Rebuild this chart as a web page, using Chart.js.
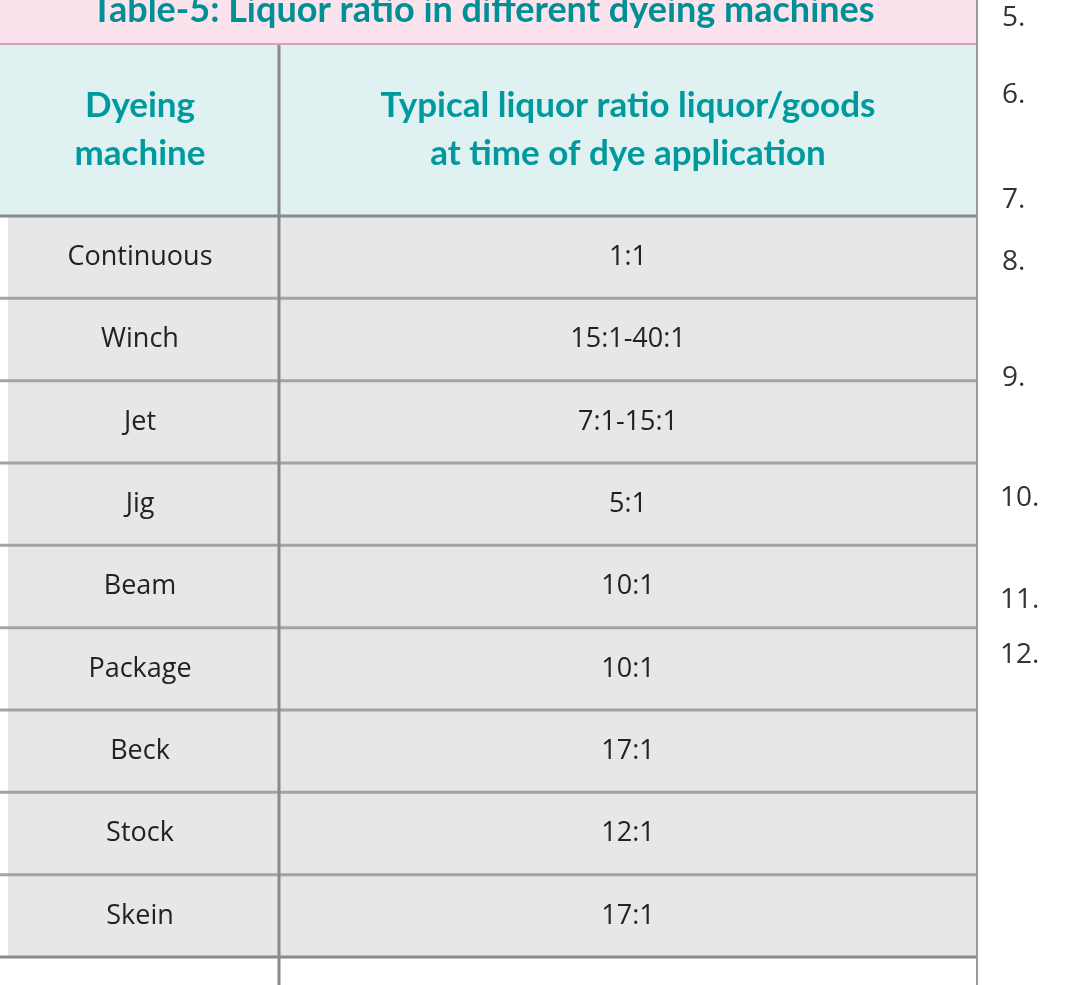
<!DOCTYPE html>
<html><head><meta charset="utf-8">
<script src="https://cdn.jsdelivr.net/npm/chart.js@4/dist/chart.umd.min.js"></script>
<style>
body{margin:0;background:#fff;width:1092px;height:985px;overflow:hidden;position:relative;font-family:Lato,"Open Sans",sans-serif}
#c{position:absolute;left:0;top:0}
</style></head><body>
<canvas id="c" width="1092" height="985"></canvas>
<script>
const title = "Table-5: Liquor ratio in different dyeing machines";
const headers = ["Dyeing\nmachine", "Typical liquor ratio liquor/goods\nat time of dye application"];
const machines = ["Continuous","Winch","Jet","Jig","Beam","Package","Beck","Stock","Skein"];
const ratios = ["1:1","15:1-40:1","7:1-15:1","5:1","10:1","10:1","17:1","12:1","17:1"];
const sideNumbers = ["5.","6.","7.","8.","9.","10.","11.","12."];
const sideY = [18,95,200,262,378,498,600,655];

const tablePlugin = {
  id:'tablePlugin',
  beforeDraw(ch){
    const c=ch.ctx, a=ch.chartArea;
    c.save();
    c.fillStyle='#fff';c.fillRect(0,0,1092,985);
    c.fillStyle='#fbe3ee';c.fillRect(0,0,a.right,45);
    c.fillStyle='#dff1f1';c.fillRect(0,45,a.right,a.top-45);
    c.fillStyle='#008f94';c.font='bold 36px Lato';c.textAlign='center';c.textBaseline='alphabetic';
    c.fillText(title,a.right/2-5,22);
    c.fillStyle='#d7a0b8';c.fillRect(0,43,a.right,2);
    c.font='bold 35px Lato';c.fillStyle='#009a9e';c.textBaseline='middle';
    const cols=[140,628];
    headers.forEach((h,i)=>{h.split('\n').forEach((l,j)=>{c.fillText(l,cols[i],106+j*48);});});
    c.restore();
  },
  afterDatasetsDraw(ch){
    const c=ch.ctx,a=ch.chartArea,y=ch.scales.y;
    c.save();
    c.strokeStyle='#a3a3a3';c.lineWidth=3;
    for(let i=0;i<machines.length-1;i++){
      const py=(y.getPixelForValue(i)+y.getPixelForValue(i+1))/2;
      c.beginPath();c.moveTo(0,py);c.lineTo(a.right,py);c.stroke();
    }
    c.strokeStyle='#8a8a8a';c.lineWidth=3;
    c.beginPath();c.moveTo(279,45);c.lineTo(279,a.bottom+28);c.stroke();
    c.beginPath();c.moveTo(0,a.top);c.lineTo(a.right,a.top);c.stroke();
    c.beginPath();c.moveTo(0,a.bottom);c.lineTo(a.right,a.bottom);c.stroke();
    c.strokeStyle='#9a9a9a';c.lineWidth=2;
    c.beginPath();c.moveTo(a.right+1,0);c.lineTo(a.right+1,985);c.stroke();
    c.fillStyle='#222';c.font='27px "Open Sans"';c.textAlign='center';c.textBaseline='middle';
    machines.forEach((m,i)=>{const py=y.getPixelForValue(i);c.fillText(m,140,py);c.fillText(ratios[i],628,py);});
    c.textAlign='left';c.font='28px "Open Sans"';c.fillStyle='#333';
    sideNumbers.forEach((n,i)=>c.fillText(n,n.length>2?1000:1002,sideY[i]));
    c.restore();
  }
};

new Chart(document.getElementById('c'),{
  type:'bar',
  data:{labels:machines,datasets:[{data:machines.map(()=>1),backgroundColor:'#e6e7e8',barPercentage:1,categoryPercentage:1}]},
  options:{indexAxis:'y',responsive:false,animation:false,
    layout:{padding:{top:216,bottom:28,left:0,right:116}},
    plugins:{legend:{display:false},tooltip:{enabled:false}},
    scales:{x:{min:0,max:1,display:false},
      y:{grid:{display:false},border:{display:false},ticks:{display:false}}}
  },
  plugins:[tablePlugin]
});
</script></body></html>
